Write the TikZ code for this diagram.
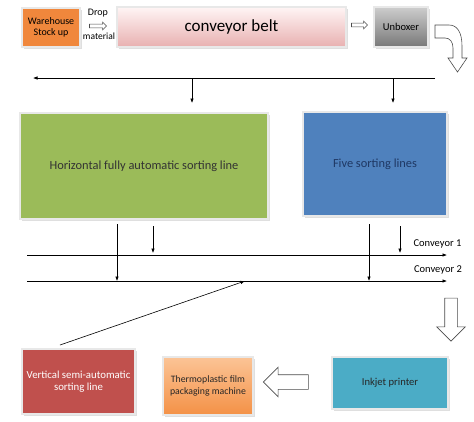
\documentclass[tikz,border=0pt]{standalone}
\usepackage{fontspec}
\setmainfont{Carlito}
\usetikzlibrary{arrows.meta,shapes.arrows,shadows}

\definecolor{wareorange}{RGB}{240,135,60}
\definecolor{beltpink}{RGB}{232,176,176}
\definecolor{sortgreen}{RGB}{155,187,89}
\definecolor{sortblue}{RGB}{79,129,189}
\definecolor{semired}{RGB}{192,80,77}
\definecolor{inkcyan}{RGB}{75,172,198}
\definecolor{textnavy}{RGB}{31,56,100}
\definecolor{packtop}{RGB}{251,196,150}
\definecolor{packbot}{RGB}{244,145,70}
\definecolor{unboxdark}{RGB}{120,120,120}
\definecolor{unboxmid}{RGB}{205,205,205}

\begin{document}
\begin{tikzpicture}[x=1pt,y=-1pt,
  box/.style={draw=white!82!gray, line width=1.2pt, inner sep=2pt, align=center,
    drop shadow={shadow xshift=1.5pt, shadow yshift=-1.5pt, opacity=0.25}},
  conv/.style={-{Latex[length=4.5pt,width=3.5pt]}, line width=0.6pt},
  hollow/.style={draw=black!70, fill=white, line width=0.6pt},
  harrow/.style={single arrow, hollow, inner sep=0pt, minimum width=0pt},
  small/.style={font=\fontsize{10.5}{11}\selectfont, inner sep=0pt}]
\useasboundingbox (0,0) rectangle (474,421);

% top row
\node [box, fill=wareorange, minimum width=58pt, minimum height=39pt, font=\fontsize{10}{11}\selectfont] (ware) at (51,27.5) {Warehouse\\Stock up};
\node [small, font=\fontsize{10}{11}\selectfont] (drop) at (98,13.5) {Drop};
\node [small, font=\fontsize{9.5}{10}\selectfont] (material) at (99,36) {material};
\node [harrow, inner ysep=1.6pt, single arrow head extend=2pt, minimum height=17pt] (droparr) at (97,26) {};
\node [box, top color=white!96!red, bottom color=beltpink, minimum width=229pt, minimum height=40pt, font=\fontsize{17}{18}\selectfont] (belt) at (231.5,27) {conveyor belt};
\node [harrow, inner ysep=1.6pt, single arrow head extend=2pt, minimum height=16pt] (beltarr) at (358.5,25) {};
\node [box, top color=unboxmid, bottom color=unboxdark, minimum width=54pt, minimum height=40pt, font=\fontsize{10.5}{11}\selectfont] (unbox) at (401,27) {Unboxer};
\draw [hollow] (435,25) -- (449,25) .. controls (457,25) and (462,32) .. (462,46) -- (462,58) -- (467,58) -- (457.5,72) -- (448,58) -- (453,58) -- (453,48) .. controls (453,42) and (450,38) .. (445,38) -- (435,38) -- cycle;

% return line
\coordinate (topR) at (435,78);
\coordinate (topL) at (33,78);
\coordinate (drA) at (192,78);
\coordinate (drAe) at (192,103);
\coordinate (drB) at (393,78);
\coordinate (drBe) at (393,103);
\draw [conv] (topR) -- (topL);
\draw [conv] (drA) -- (drAe);
\draw [conv] (drB) -- (drBe);

% sorting lines
\node [box, fill=sortgreen, minimum width=248pt, minimum height=106pt, text=black!80, font=\fontsize{12.4}{14}\selectfont] (hfa) at (144,166) {Horizontal fully automatic sorting line};
\node [box, fill=sortblue, minimum width=144pt, minimum height=104pt, text=textnavy, font=\fontsize{12.4}{14}\selectfont] (five) at (375,164) {Five sorting lines};

% conveyors
\coordinate (c1L) at (27,255);
\coordinate (c1R) at (447,255);
\coordinate (c2L) at (27,281);
\coordinate (c2R) at (447,281);
\draw [conv] (c1L) -- (c1R);
\draw [conv] (c2L) -- (c2R);
\node [small] (lab1) at (437.5,244) {Conveyor 1};
\node [small] (lab2) at (438,270) {Conveyor 2};
\coordinate (h1) at (117,224);
\coordinate (h1e) at (117,281);
\coordinate (h2) at (153,226);
\coordinate (h2e) at (153,253);
\coordinate (f1) at (369,224);
\coordinate (f1e) at (369,281);
\coordinate (f2) at (400,226);
\coordinate (f2e) at (400,253);
\draw [conv] (h1) -- (h1e);
\draw [conv] (h2) -- (h2e);
\draw [conv] (f1) -- (f1e);
\draw [conv] (f2) -- (f2e);

% bottom row
\node [box, fill=semired, minimum width=113pt, minimum height=65pt, text=white, font=\fontsize{10.8}{12.5}\selectfont] (vert) at (78.5,381.5) {Vertical semi-automatic\\sorting line};
\coordinate (diagS) at (60,345);
\coordinate (diagE) at (245,281);
\draw [conv] (diagS) -- (diagE);
\node [box, top color=packtop, bottom color=packbot, minimum width=90pt, minimum height=58pt, text=black!85, font=\fontsize{9.8}{11.5}\selectfont] (thermo) at (208,386) {Thermoplastic film\\packaging machine};
\node [box, fill=inkcyan, minimum width=116pt, minimum height=52pt, text=black!85, font=\fontsize{10.6}{12}\selectfont] (inkjet) at (390,383) {Inkjet printer};
\node [harrow, inner ysep=7pt, single arrow head extend=7.5pt, minimum height=45pt, shape border rotate=180] (packarr) at (289.5,382) {};
\node [harrow, inner xsep=6pt, inner ysep=6pt, single arrow head extend=8pt, minimum height=43pt, shape border rotate=270] (downarr) at (451,316.5) {};
\end{tikzpicture}
\end{document}
